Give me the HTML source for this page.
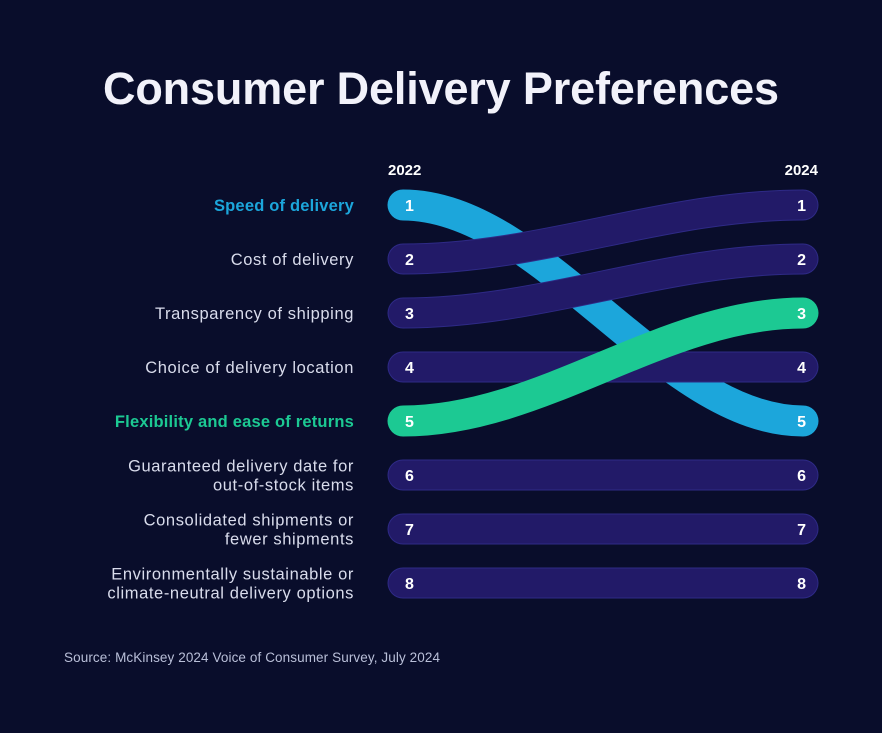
<!DOCTYPE html>
<html><head><meta charset="utf-8"><style>
html,body{margin:0;padding:0;background:#090d2b;}
body{width:882px;height:728px;overflow:hidden;position:relative;font-family:"Liberation Sans",sans-serif;}
</style></head><body>
<svg width="882" height="728" xmlns="http://www.w3.org/2000/svg">
<rect width="882" height="728" fill="#090d2b"/>
<text x="441" y="104" text-anchor="middle" fill="#f2f2fa" font-size="45" font-weight="bold" textLength="676">Consumer Delivery Preferences</text>
<text x="388" y="175" fill="#ffffff" font-size="15" font-weight="bold">2022</text>
<text x="818" y="175" text-anchor="end" fill="#ffffff" font-size="15" font-weight="bold">2024</text>
<g id="bands"></g>
<g id="labels"></g>
<text x="64" y="662" fill="#b9bfd8" font-size="13.5" textLength="376">Source: McKinsey 2024 Voice of Consumer Survey, July 2024</text>
</svg>
<script>
const categories = [["Speed of delivery"],["Cost of delivery"],["Transparency of shipping"],["Choice of delivery location"],["Flexibility and ease of returns"],["Guaranteed delivery date for","out-of-stock items"],["Consolidated shipments or","fewer shipments"],["Environmentally sustainable or","climate-neutral delivery options"]];
const rank2022 = [1,2,3,4,5,6,7,8];
const rank2024 = [5,1,2,4,3,6,7,8];
const highlight = ["blue",null,null,null,"green",null,null,null];

const NS="http://www.w3.org/2000/svg";
const y = r => 205 + (r-1)*54;
const x0=403, x1=803, w=x1-x0;
const colors={blue:"#1ca6db",green:"#1cc993"};
const bands=document.getElementById('bands'), labels=document.getElementById('labels');
const order=[0,1,2,3,5,6,7,4];
order.sort((a,b)=>{const p=i=>highlight[i]==="green"?2:(highlight[i]==="blue"?0:1);return p(a)-p(b);});
order.forEach(i=>{
  const ya=y(rank2022[i]), yb=y(rank2024[i]);
  const d=`M${x0},${ya} C${x0+w*0.35},${ya} ${x1-w*0.35},${yb} ${x1},${yb}`;
  if(!highlight[i]){
    const o=document.createElementNS(NS,'path');
    o.setAttribute('d',d);o.setAttribute('fill','none');o.setAttribute('stroke','#2e2a86');
    o.setAttribute('stroke-width','31');o.setAttribute('stroke-linecap','round');
    
    
    bands.appendChild(o);
  }
  const p=document.createElementNS(NS,'path');
  p.setAttribute('d',d);
  p.setAttribute('fill','none');
  p.setAttribute('stroke',highlight[i]?colors[highlight[i]]:'#221a68');
  p.setAttribute('stroke-width',highlight[i]?'31':'29');
  p.setAttribute('stroke-linecap','round');
  
  
  bands.appendChild(p);
});
categories.forEach((c,i)=>{
  const ya=y(rank2022[i]), yb=y(rank2024[i]);
  const col=highlight[i]?colors[highlight[i]]:'#d9dcec';
  const t=document.createElementNS(NS,'text');
  t.setAttribute('x','354');t.setAttribute('text-anchor','end');
  t.setAttribute('fill',col);t.setAttribute('font-size','16.5');
  t.setAttribute('letter-spacing',highlight[i]?'0.2':'0.6');
  if(highlight[i])t.setAttribute('font-weight','bold');
  
  
  c.forEach((line,k)=>{const s=document.createElementNS(NS,'tspan');s.setAttribute('x','354');
    s.setAttribute('y',String(ya+6+(k-(c.length-1)/2)*19));s.textContent=line;t.appendChild(s);});
  labels.appendChild(t);
  [[405,ya,rank2022[i],'start','rank-2022-'],[806,yb,rank2024[i],'end','rank-2024-']].forEach(a=>{
    const n=document.createElementNS(NS,'text');
    n.setAttribute('x',a[0]);n.setAttribute('y',a[1]+6);n.setAttribute('text-anchor',a[3]);
    n.setAttribute('fill','#ffffff');n.setAttribute('font-size','16');n.setAttribute('font-weight','bold');
    
    
    n.textContent=a[2];labels.appendChild(n);
  });
});
</script>
</body></html>
